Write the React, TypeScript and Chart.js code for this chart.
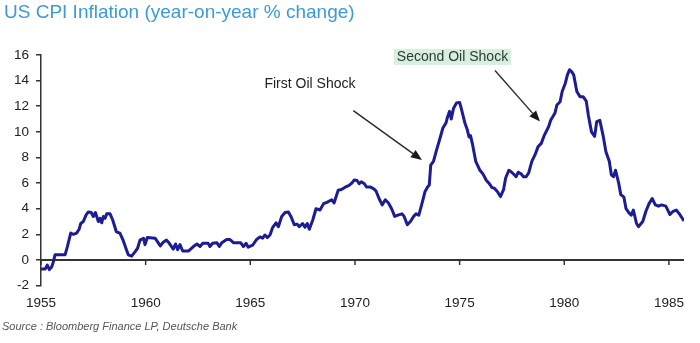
import React, { useEffect, useRef } from "react";
import { Chart, registerables } from "chart.js";

Chart.register(...registerables);

// ---- Data ----
const years: number[] = [
  1955.0, 1955.2, 1955.3, 1955.4, 1955.51, 1955.59, 1955.67, 1956.15, 1956.26, 1956.42,
  1956.55, 1956.7, 1956.82, 1956.9, 1957.02, 1957.15, 1957.26, 1957.4, 1957.5, 1957.6,
  1957.74, 1957.82, 1957.9, 1957.98, 1958.06, 1958.14, 1958.3, 1958.43, 1958.6, 1958.77,
  1958.92, 1959.06, 1959.17, 1959.33, 1959.5, 1959.61, 1959.73, 1959.9, 1959.97, 1960.08,
  1960.45, 1960.7, 1960.85, 1961.0, 1961.13, 1961.32, 1961.43, 1961.53, 1961.64, 1961.77,
  1962.04, 1962.28, 1962.45, 1962.6, 1962.73, 1962.99, 1963.07, 1963.2, 1963.4, 1963.52,
  1963.64, 1963.87, 1964.03, 1964.19, 1964.54, 1964.67, 1964.8, 1964.9, 1965.11, 1965.3,
  1965.46, 1965.59, 1965.7, 1965.81, 1965.94, 1966.07, 1966.23, 1966.34, 1966.5, 1966.66,
  1966.82, 1966.94, 1967.1, 1967.23, 1967.34, 1967.5, 1967.61, 1967.72, 1967.82, 1967.98,
  1968.14, 1968.33, 1968.5, 1968.66, 1968.89, 1969.0, 1969.2, 1969.35, 1969.55, 1969.7,
  1969.85, 1969.97, 1970.1, 1970.2, 1970.3, 1970.45, 1970.55, 1970.72, 1970.9, 1971.0,
  1971.15, 1971.3, 1971.45, 1971.6, 1971.75, 1971.9, 1972.05, 1972.25, 1972.35, 1972.5,
  1972.65, 1972.8, 1972.92, 1973.05, 1973.2, 1973.35, 1973.47, 1973.55, 1973.62, 1973.75,
  1973.9, 1974.08, 1974.2, 1974.35, 1974.43, 1974.52, 1974.6, 1974.71, 1974.85, 1975.0,
  1975.1, 1975.25, 1975.36, 1975.45, 1975.52, 1975.62, 1975.77, 1975.97, 1976.12, 1976.28,
  1976.4, 1976.55, 1976.66, 1976.8, 1976.95, 1977.1, 1977.2, 1977.35, 1977.45, 1977.55,
  1977.7, 1977.8, 1977.95, 1978.05, 1978.18, 1978.3, 1978.45, 1978.6, 1978.75, 1978.9,
  1979.05, 1979.25, 1979.35, 1979.55, 1979.65, 1979.8, 1979.9, 1980.05, 1980.15, 1980.25,
  1980.35, 1980.45, 1980.6, 1980.75, 1980.9, 1981.05, 1981.15, 1981.3, 1981.45, 1981.55,
  1981.7, 1981.85, 1981.99, 1982.15, 1982.25, 1982.35, 1982.45, 1982.6, 1982.7, 1982.85,
  1982.95, 1983.1, 1983.2, 1983.3, 1983.45, 1983.55, 1983.75, 1983.9, 1984.05, 1984.2,
  1984.35, 1984.5, 1984.65, 1984.85, 1985.05, 1985.2, 1985.35, 1985.5, 1985.62, 1985.72,
];

const cpiInflation: number[] = [
  -0.7, -0.7, -0.4, -0.75, -0.55, -0.15, 0.4, 0.4, 1.05, 2.1,
  2.0, 2.1, 2.4, 2.85, 3.0, 3.5, 3.75, 3.7, 3.4, 3.7,
  3.0, 3.25, 2.9, 3.4, 3.25, 3.6, 3.6, 3.1, 2.2, 2.1,
  1.55, 0.9, 0.4, 0.3, 0.65, 0.9, 1.55, 1.7, 1.2, 1.75,
  1.7, 1.1, 1.4, 1.55, 1.3, 0.85, 1.25, 0.8, 1.2, 0.7,
  0.7, 1.05, 1.25, 1.05, 1.3, 1.3, 1.05, 1.3, 1.35, 1.05,
  1.35, 1.6, 1.6, 1.35, 1.35, 1.05, 1.3, 1.0, 1.15, 1.6,
  1.8, 1.7, 1.95, 1.75, 1.95, 2.55, 2.9, 2.6, 3.4, 3.7,
  3.75, 3.4, 2.75, 2.8, 2.6, 2.85, 2.55, 2.85, 2.4, 3.1,
  4.0, 3.9, 4.4, 4.5, 4.7, 4.45, 5.45, 5.5, 5.7, 5.8,
  6.0, 6.25, 6.2, 5.95, 6.1, 5.95, 5.7, 5.7, 5.55, 5.4,
  4.8, 4.3, 4.7, 4.45, 4.0, 3.4, 3.5, 3.6, 3.4, 2.75,
  3.0, 3.4, 3.6, 3.5, 4.4, 5.35, 5.7, 5.85, 7.4, 7.7,
  8.6, 9.6, 10.3, 10.7, 11.2, 11.6, 11.0, 11.85, 12.25, 12.3,
  11.7, 10.7, 10.2, 9.6, 9.7, 9.0, 7.7, 7.0, 6.7, 6.2,
  6.0, 5.65, 5.6, 5.35, 4.95, 5.5, 6.4, 7.0, 6.9, 6.75,
  6.5, 6.85, 6.7, 6.5, 6.5, 6.8, 7.7, 8.2, 8.85, 9.1,
  9.75, 10.4, 10.9, 11.45, 12.1, 12.35, 13.15, 13.8, 14.45, 14.85,
  14.7, 14.45, 13.15, 12.75, 12.75, 12.4, 11.3, 10.0, 9.65, 10.8,
  10.9, 9.75, 8.45, 7.7, 6.65, 6.5, 7.0, 6.0, 5.1, 4.9,
  4.0, 3.65, 3.5, 3.9, 2.85, 2.6, 3.0, 3.8, 4.4, 4.8,
  4.3, 4.2, 4.3, 4.2, 3.55, 3.8, 3.9, 3.6, 3.3, 3.05,
];

const xTickYears: number[] = [1955, 1960, 1965, 1970, 1975, 1980, 1985];
const yTickValues: number[] = [-2, 0, 2, 4, 6, 8, 10, 12, 14, 16];

const titleText = "US CPI Inflation (year-on-year % change)";
const sourceText = "Source : Bloomberg Finance LP, Deutsche Bank";

// annotation labels and arrows, anchored in data coordinates
const annotationLabels: string[] = ["First Oil Shock", "Second Oil Shock"];
const labelAnchors: [number, number][] = [
  [1967.85, 13.75],
  [1974.66, 15.85],
];
const arrowStarts: [number, number][] = [
  [1969.92, 11.66],
  [1976.69, 14.79],
];
const arrowTips: [number, number][] = [
  [1973.2, 7.8],
  [1978.84, 10.8],
];

const FONT = "'Liberation Sans', Arial, Helvetica, sans-serif";

function drawArrow(ctx: CanvasRenderingContext2D, x1: number, y1: number, x2: number, y2: number) {
  const ang = Math.atan2(y2 - y1, x2 - x1);
  const headLen = 11;
  const headHalf = 4.5;
  const bx = x2 - headLen * Math.cos(ang);
  const by = y2 - headLen * Math.sin(ang);
  ctx.save();
  ctx.strokeStyle = "#2a2a2a";
  ctx.fillStyle = "#1a1a1a";
  ctx.lineWidth = 1.4;
  ctx.beginPath();
  ctx.moveTo(x1, y1);
  ctx.lineTo(bx, by);
  ctx.stroke();
  ctx.beginPath();
  ctx.moveTo(x2, y2);
  ctx.lineTo(bx + headHalf * Math.sin(ang), by - headHalf * Math.cos(ang));
  ctx.lineTo(bx - headHalf * Math.sin(ang), by + headHalf * Math.cos(ang));
  ctx.closePath();
  ctx.fill();
  ctx.restore();
}

const decorPlugin = {
  id: "decor",
  beforeDatasetsDraw(chart: any) {
    const ctx: CanvasRenderingContext2D = chart.ctx;
    const xs = chart.scales.x;
    const ys = chart.scales.y;
    const y0 = ys.getPixelForValue(0);
    ctx.save();
    ctx.strokeStyle = "#333333";
    ctx.lineWidth = 2;
    ctx.beginPath();
    ctx.moveTo(chart.chartArea.left, y0);
    ctx.lineTo(chart.chartArea.right, y0);
    ctx.stroke();
    ctx.lineWidth = 1.5;
    xTickYears.forEach((yr) => {
      const px = xs.getPixelForValue(yr);
      ctx.beginPath();
      ctx.moveTo(px, y0);
      ctx.lineTo(px, y0 + 5);
      ctx.stroke();
    });
    ctx.restore();
  },
  afterDraw(chart: any) {
    const ctx: CanvasRenderingContext2D = chart.ctx;
    const xs = chart.scales.x;
    const ys = chart.scales.y;
    ctx.save();
    // title
    ctx.font = `19px ${FONT}`;
    ctx.fillStyle = "#3b9bd8";
    ctx.textAlign = "left";
    ctx.textBaseline = "alphabetic";
    ctx.fillText(titleText, 4, 18);
    // source
    ctx.font = `italic 11px ${FONT}`;
    ctx.fillStyle = "#555555";
    ctx.fillText(sourceText, 2, 330);

    // annotations
    annotationLabels.forEach((label, i) => {
      const [ax, ay] = labelAnchors[i];
      const px = xs.getPixelForValue(ax);
      const py = ys.getPixelForValue(ay);
      ctx.font = `14px ${FONT}`;
      ctx.textAlign = "center";
      ctx.textBaseline = "middle";
      if (i === 1) {
        const w = ctx.measureText(label).width;
        ctx.fillStyle = "#d7efdf";
        ctx.fillRect(px - w / 2 - 3, py - 8, w + 6, 16);
        ctx.fillStyle = "#2f3a33";
      } else {
        ctx.fillStyle = "#222222";
      }
      ctx.fillText(label, px, py + 0.5);
      const [sx, sy] = arrowStarts[i];
      const [tx, ty] = arrowTips[i];
      drawArrow(
        ctx,
        xs.getPixelForValue(sx),
        ys.getPixelForValue(sy),
        xs.getPixelForValue(tx),
        ys.getPixelForValue(ty)
      );
    });
    ctx.restore();
  },
};

export default function App() {
  const canvasRef = useRef<HTMLCanvasElement | null>(null);

  useEffect(() => {
    document.body.style.margin = "0";
    const canvas = canvasRef.current;
    if (!canvas) return;
    const points = years.map((yr, i) => ({ x: yr, y: cpiInflation[i] }));
    const chart = new Chart(canvas, {
      type: "line",
      data: {
        datasets: [
          {
            label: "US CPI Inflation",
            data: points,
            borderColor: "#1c1c94",
            borderWidth: 3,
            pointRadius: 0,
            tension: 0,
            fill: false,
            borderJoinStyle: "round",
          },
        ],
      },
      options: {
        responsive: false,
        animation: false,
        devicePixelRatio: 1,
        layout: { padding: { left: 0, right: 16, top: 55, bottom: 30 } },
        plugins: {
          legend: { display: false },
          title: { display: false },
          tooltip: { enabled: false },
        },
        scales: {
          x: {
            type: "linear",
            min: 1955,
            max: 1985.72,
            afterBuildTicks: (scale: any) => {
              scale.ticks = xTickYears.map((v) => ({ value: v }));
            },
            afterFit: (scale: any) => {
              scale.height = 343 - 30 - 285.6;
            },
            grid: { display: false, drawTicks: false },
            border: { display: false },
            ticks: {
              padding: 10,
              maxRotation: 0,
              autoSkip: false,
              color: "#222222",
              font: { family: FONT, size: 13.5 },
              callback: (v: any) => String(v),
            },
          },
          y: {
            type: "linear",
            min: -2,
            max: 16,
            afterBuildTicks: (scale: any) => {
              scale.ticks = yTickValues.map((v) => ({ value: v }));
            },
            afterFit: (scale: any) => {
              scale.width = 41;
            },
            grid: {
              drawOnChartArea: false,
              drawTicks: true,
              tickLength: 5,
              color: "#333333",
              lineWidth: 1.5,
            },
            border: { display: true, color: "#333333", width: 1.5 },
            ticks: {
              padding: 7,
              color: "#222222",
              font: { family: FONT, size: 13.5 },
              callback: (v: any) => String(v),
            },
          },
        },
      },
      plugins: [decorPlugin],
    });
    return () => chart.destroy();
  }, []);

  return (
    <div style={{ position: "absolute", left: 0, top: 0, width: 700, height: 343, background: "#ffffff" }}>
      <canvas ref={canvasRef} width={700} height={343} />
    </div>
  );
}
